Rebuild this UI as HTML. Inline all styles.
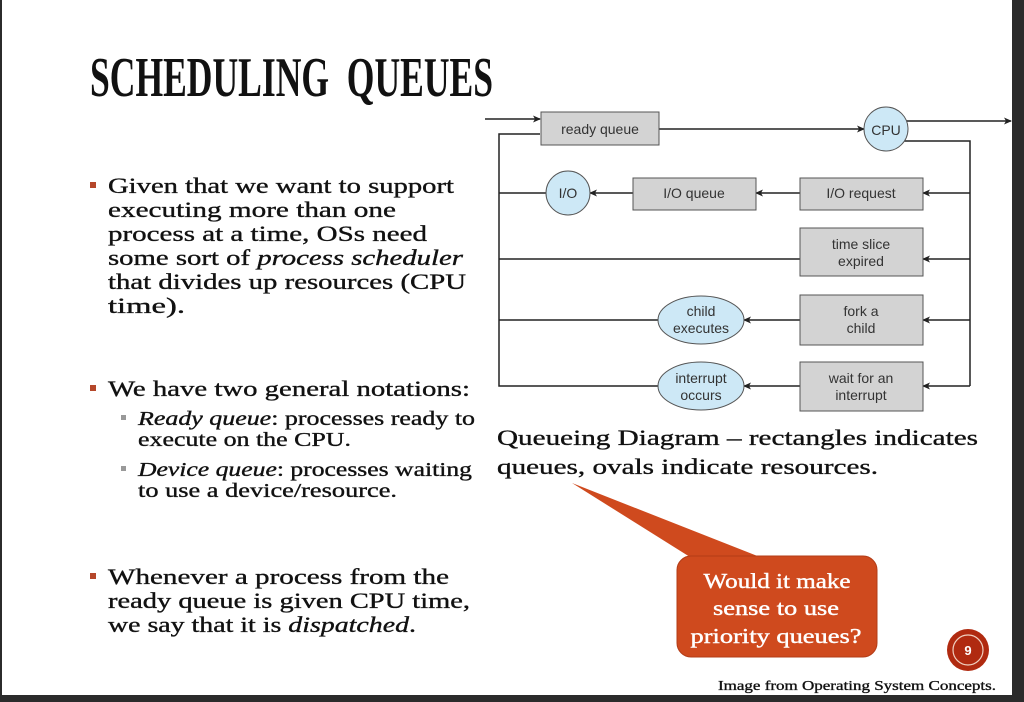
<!DOCTYPE html>
<html><head><meta charset="utf-8"><style>
html,body{margin:0;padding:0;background:#2b2b2b;}
svg{display:block}
.t{font-family:"Liberation Serif",serif;fill:#111;}
.b{stroke:#111;stroke-width:0.35;}
.d{font-family:"Liberation Sans",sans-serif;fill:#333;font-size:14px;}
</style></head><body>
<svg width="1024" height="702" viewBox="0 0 1024 702" xmlns="http://www.w3.org/2000/svg">
<defs>
<marker id="a" markerWidth="8" markerHeight="8" refX="7" refY="4" orient="auto" markerUnits="userSpaceOnUse">
<path d="M0,0.5 L8,4 L0,7.5 L2,4 Z" fill="#222"/></marker>
</defs>
<rect x="0" y="0" width="1024" height="702" fill="#2b2b2b"/>
<rect x="2" y="0" width="1010" height="695" fill="#fff"/>

<!-- title -->
<text x="90" y="96" class="t" font-weight="bold" font-size="56" textLength="403" lengthAdjust="spacingAndGlyphs" word-spacing="14">SCHEDULING QUEUES</text>

<!-- bullets -->
<g class="t b" font-size="22">
<rect x="90" y="182" width="6" height="6" fill="#b5472a" stroke="none"/>
<text x="108" y="193" textLength="346" lengthAdjust="spacingAndGlyphs">Given that we want to support</text>
<text x="108" y="217" textLength="288" lengthAdjust="spacingAndGlyphs">executing more than one</text>
<text x="108" y="241" textLength="319" lengthAdjust="spacingAndGlyphs">process at a time, OSs need</text>
<text x="108" y="265" textLength="355" lengthAdjust="spacingAndGlyphs">some sort of <tspan font-style="italic">process scheduler</tspan></text>
<text x="108" y="289" textLength="358" lengthAdjust="spacingAndGlyphs">that divides up resources (CPU</text>
<text x="108" y="313" textLength="77" lengthAdjust="spacingAndGlyphs">time).</text>

<rect x="90" y="385" width="6" height="6" fill="#b5472a" stroke="none"/>
<text x="108" y="396" textLength="362" lengthAdjust="spacingAndGlyphs">We have two general notations:</text>
</g>
<g class="t b" font-size="20">
<rect x="121" y="415" width="5" height="5" fill="#999" stroke="none"/>
<text x="138" y="425" textLength="337" lengthAdjust="spacingAndGlyphs"><tspan font-style="italic">Ready queue</tspan>: processes ready to</text>
<text x="138" y="446" textLength="213" lengthAdjust="spacingAndGlyphs">execute on the CPU.</text>
<rect x="121" y="466" width="5" height="5" fill="#999" stroke="none"/>
<text x="138" y="476" textLength="334" lengthAdjust="spacingAndGlyphs"><tspan font-style="italic">Device queue</tspan>: processes waiting</text>
<text x="138" y="497" textLength="259" lengthAdjust="spacingAndGlyphs">to use a device/resource.</text>
</g>
<g class="t b" font-size="22">
<rect x="90" y="573" width="6" height="6" fill="#b5472a" stroke="none"/>
<text x="108" y="584" textLength="341" lengthAdjust="spacingAndGlyphs">Whenever a process from the</text>
<text x="108" y="608" textLength="362" lengthAdjust="spacingAndGlyphs">ready queue is given CPU time,</text>
<text x="108" y="632" textLength="308" lengthAdjust="spacingAndGlyphs">we say that it is <tspan font-style="italic">dispatched</tspan>.</text>
<text x="497" y="445" textLength="481" lengthAdjust="spacingAndGlyphs">Queueing Diagram – rectangles indicates</text>
<text x="497" y="474" textLength="381" lengthAdjust="spacingAndGlyphs">queues, ovals indicate resources.</text>
</g>

<!-- diagram -->
<g stroke="#222" stroke-width="1.5" fill="none">
<line x1="485" y1="119" x2="540" y2="119" marker-end="url(#a)"/>
<polyline points="540,134 499,134 499,386 658,386"/>
<line x1="659" y1="129" x2="864" y2="129" marker-end="url(#a)"/>
<line x1="906" y1="121" x2="1011" y2="121" marker-end="url(#a)"/>
<polyline points="903,141 970,141 970,386"/>
<line x1="970" y1="193" x2="923" y2="193" marker-end="url(#a)"/>
<line x1="970" y1="259" x2="923" y2="259" marker-end="url(#a)"/>
<line x1="970" y1="320" x2="923" y2="320" marker-end="url(#a)"/>
<line x1="970" y1="386" x2="923" y2="386" marker-end="url(#a)"/>
<line x1="800" y1="193" x2="756" y2="193" marker-end="url(#a)"/>
<line x1="633" y1="193" x2="590" y2="193" marker-end="url(#a)"/>
<line x1="546" y1="193" x2="499" y2="193"/>
<line x1="800" y1="259" x2="499" y2="259"/>
<line x1="800" y1="320" x2="744" y2="320" marker-end="url(#a)"/>
<line x1="658" y1="320" x2="499" y2="320"/>
<line x1="800" y1="386" x2="744" y2="386" marker-end="url(#a)"/>
</g>
<g stroke="#555" stroke-width="1" fill="#d3d3d3">
<rect x="541" y="112" width="118" height="33"/>
<rect x="633" y="178" width="123" height="32"/>
<rect x="800" y="178" width="123" height="32"/>
<rect x="800" y="228" width="123" height="48"/>
<rect x="800" y="295" width="123" height="50"/>
<rect x="800" y="362" width="123" height="49"/>
</g>
<g stroke="#555" stroke-width="1" fill="#cde8f6">
<circle cx="886" cy="129" r="22"/>
<circle cx="568" cy="193" r="22"/>
<ellipse cx="701" cy="320" rx="43" ry="24"/>
<ellipse cx="701" cy="386" rx="43" ry="24"/>
</g>
<g class="d" text-anchor="middle">
<text x="600" y="134">ready queue</text>
<text x="886" y="135">CPU</text>
<text x="568" y="198">I/O</text>
<text x="694" y="198">I/O queue</text>
<text x="861" y="198">I/O request</text>
<text x="861" y="249">time slice</text>
<text x="861" y="266">expired</text>
<text x="861" y="316">fork a</text>
<text x="861" y="333">child</text>
<text x="861" y="383">wait for an</text>
<text x="861" y="400">interrupt</text>
<text x="701" y="316">child</text>
<text x="701" y="333">executes</text>
<text x="701" y="383">interrupt</text>
<text x="701" y="400">occurs</text>
</g>

<!-- callout -->
<path d="M572,483 L760,557 L690,557 Z" fill="#cf4a1e"/>
<rect x="677" y="556" width="200" height="101" rx="14" fill="#cf4a1e" stroke="#b33c17"/>
<g font-family="Liberation Serif,serif" font-size="21" fill="#fff" stroke="#fff" stroke-width="0.4" text-anchor="middle">
<text x="777" y="588" textLength="147" lengthAdjust="spacingAndGlyphs">Would it make</text>
<text x="776" y="615" textLength="126" lengthAdjust="spacingAndGlyphs">sense to use</text>
<text x="776" y="643" textLength="171" lengthAdjust="spacingAndGlyphs">priority queues?</text>
</g>

<!-- page number -->
<circle cx="968" cy="650" r="21" fill="#b02a10"/>
<circle cx="968" cy="650" r="15" fill="none" stroke="#f0d0c0" stroke-width="1.2"/>
<text x="968" y="655" text-anchor="middle" font-family="Liberation Sans,sans-serif" font-weight="bold" font-size="13" fill="#fff">9</text>

<text x="718" y="690" class="t b" font-size="14" stroke-width="0.2" textLength="278" lengthAdjust="spacingAndGlyphs">Image from Operating System Concepts.</text>
</svg>
</body></html>
